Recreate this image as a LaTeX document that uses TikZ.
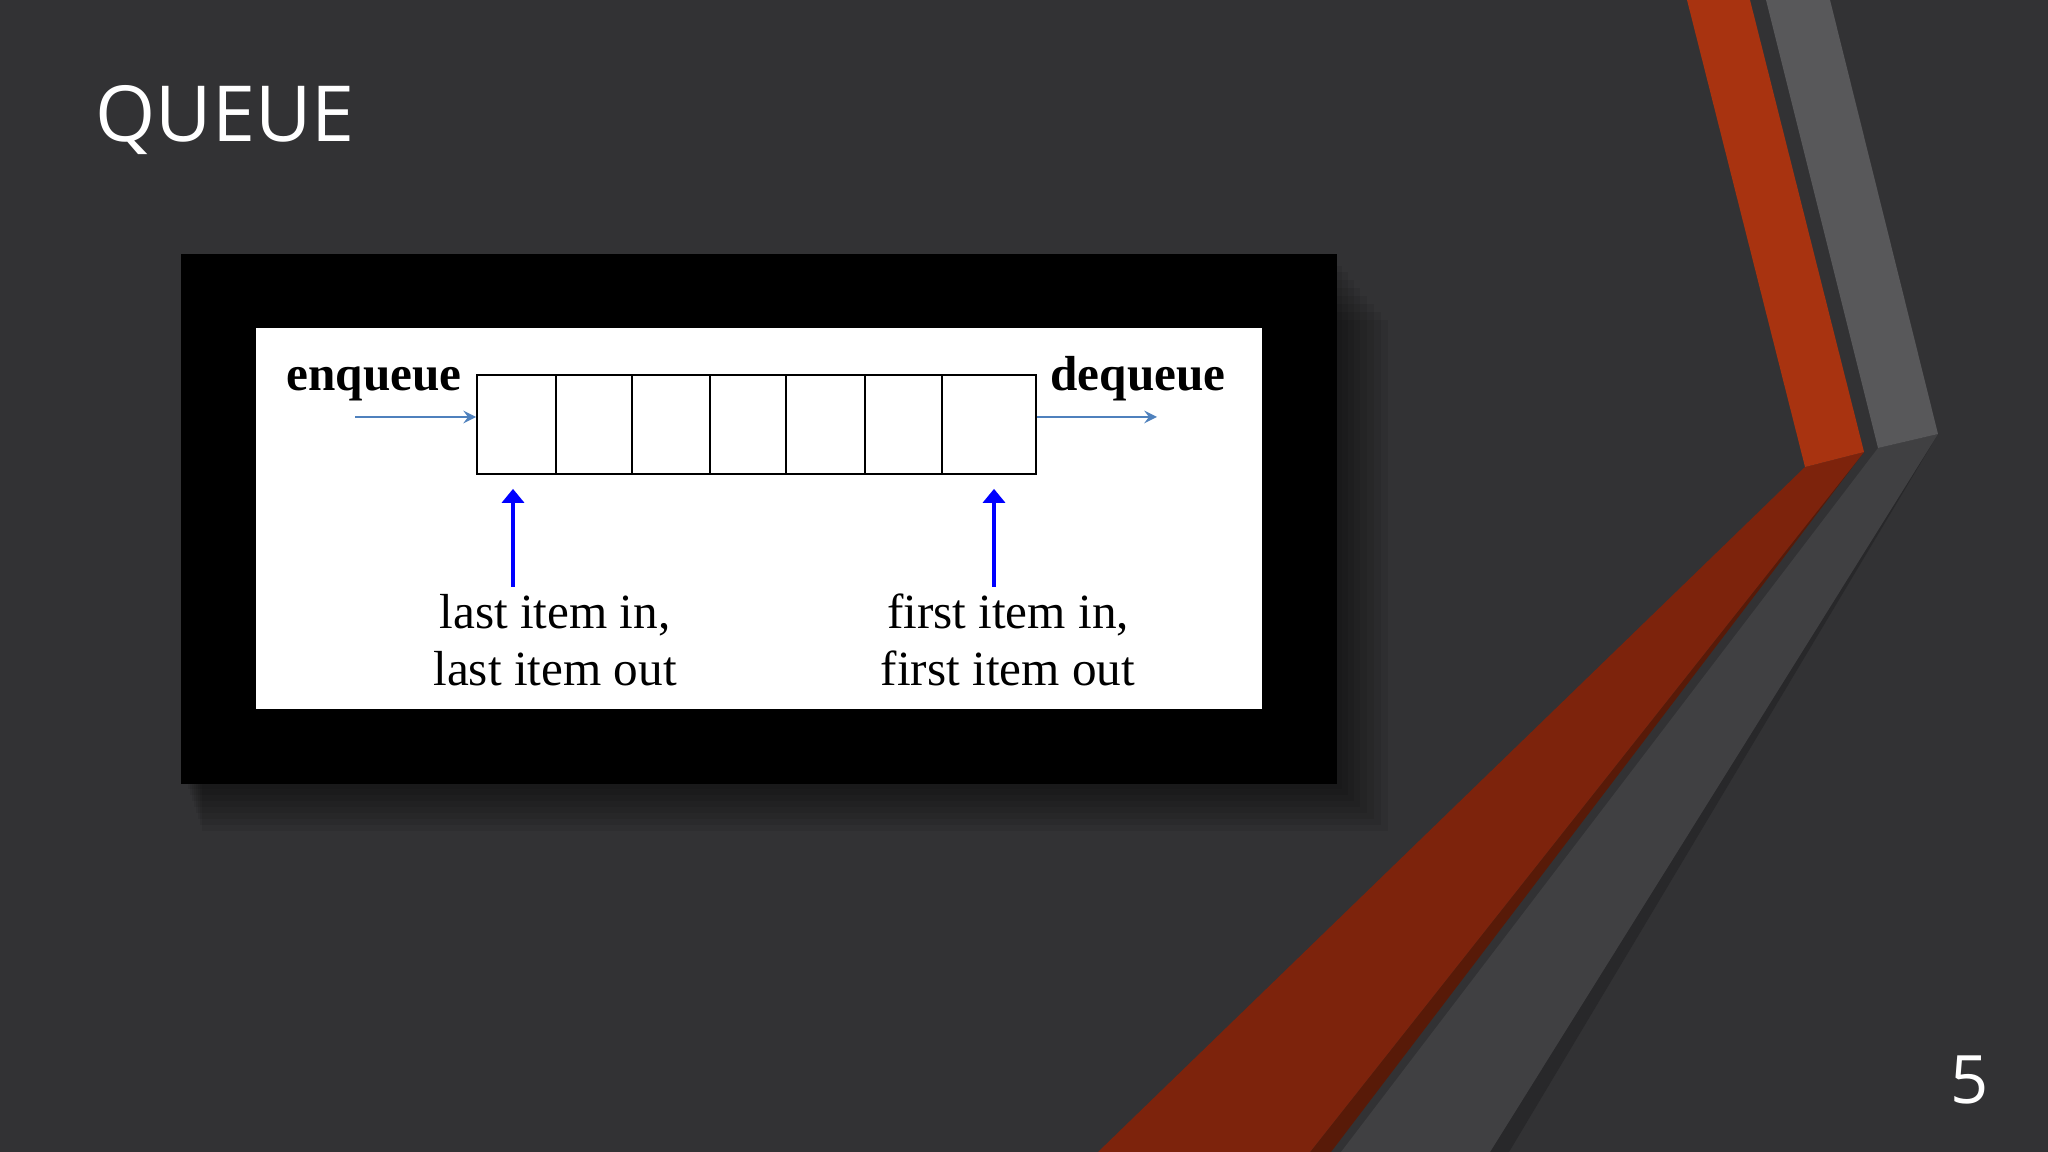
\documentclass[tikz,border=0pt]{standalone}
\usepackage{fontspec}
\setmainfont{Open Sans}
\newfontfamily\timesfont{Liberation Serif}
\usepackage{tikz}
\usetikzlibrary{arrows,arrows.meta,positioning}
\usepackage{xcolor}
\definecolor{slidebg}{RGB}{50,50,52}
\definecolor{rustup}{RGB}{168,51,16}
\definecolor{rustlow}{RGB}{125,35,12}
\definecolor{rustdark}{RGB}{88,26,8}
\definecolor{greyup}{RGB}{88,88,90}
\definecolor{greylow}{RGB}{64,64,66}
\definecolor{greydark}{RGB}{40,40,42}
\definecolor{feedblue}{RGB}{79,129,189}
\definecolor{ptrblue}{RGB}{0,0,255}
\tikzstyle{cell} = [draw=black, line width=0.5pt, minimum height=9.9mm, inner sep=0pt]
\tikzstyle{feed} = [line width=0.6pt, ->, >=stealth, color=feedblue]
\tikzstyle{pointer} = [line width=1.4pt, -{Triangle[length=1.4mm, width=2.2mm]}, color=ptrblue, shorten >=1.4mm]
\tikzstyle{qhead} = [font=\timesfont\bfseries\fontsize{14}{16}\selectfont, inner sep=0pt]
\tikzstyle{qlabel} = [font=\timesfont\fontsize{14}{16.2}\selectfont, align=center, inner sep=0pt]
\tikzstyle{haze} = [black, opacity=0.07]

\begin{document}
\begin{tikzpicture}[x=0.1mm, y=-0.1mm]
\useasboundingbox (0,0) rectangle (2048,1152);
\fill[slidebg] (0,0) rectangle (2048,1152);

% Stripes
\fill[rustdark] (1864,452) -- (1331,1152) -- (1310,1152) -- cycle;
\fill[rustlow] (1805,467) -- (1864,452) -- (1310,1152) -- (1098,1152) -- cycle;
\fill[greydark] (1938,434) -- (1509,1152) -- (1490,1152) -- cycle;
\fill[greylow] (1878,448) -- (1938,434) -- (1490,1152) -- (1341,1152) -- cycle;
\fill[rustup] (1687,0) -- (1750,0) -- (1864,452) -- (1805,467) -- cycle;
\fill[greyup] (1766,0) -- (1830,0) -- (1938,434) -- (1878,448) -- cycle;

% Title and page number
\node[anchor=base west, text=white, inner sep=0pt, font=\fontsize{22}{26}\selectfont] (title) at (95,142) {QUEUE};
\node[anchor=base, text=white, inner sep=0pt, font=\fontsize{19}{22}\selectfont] (pageno) at (1970,1103) {5};

% Frame with soft shadow
\fill[haze] (188,266) rectangle (1342,789);
\fill[haze] (190,272) rectangle (1348,795);
\fill[haze] (192,280) rectangle (1354,801);
\fill[haze] (194,288) rectangle (1360,807);
\fill[haze] (196,296) rectangle (1367,813);
\fill[haze] (198,304) rectangle (1374,819);
\fill[haze] (200,312) rectangle (1381,825);
\fill[haze] (202,320) rectangle (1388,831);
\fill[black] (181,254) rectangle (1337,784);
\fill[white] (256,328) rectangle (1262,709);

% Queue cells
\node[cell, minimum width=7.9mm] (c1) at (516.5,424.5) {};
\node[cell, minimum width=7.6mm] (c2) at (594,424.5) {};
\node[cell, minimum width=7.8mm] (c3) at (671,424.5) {};
\node[cell, minimum width=7.6mm] (c4) at (748,424.5) {};
\node[cell, minimum width=7.9mm] (c5) at (825.5,424.5) {};
\node[cell, minimum width=7.7mm] (c6) at (903.5,424.5) {};
\node[cell, minimum width=9.4mm] (c7) at (989,424.5) {};

% Ends
\node[qhead, anchor=base] (enq) at (374,391) {enqueue};
\node[qhead, anchor=base] (deq) at (1138,391) {dequeue};
\coordinate (enqtail) at (355,417);
\coordinate (deqtip) at (1157,417);
\draw[feed] (enqtail) -- (enqtail -| c1.west);
\draw[feed] (deqtip -| c7.east) -- (deqtip);

% Pointers
\node[qlabel] (lifo) at (555,640) {last item in,\\last item out};
\node[qlabel] (fifo) at (1008,640) {first item in,\\first item out};
\coordinate (lifofoot) at (513,587);
\coordinate (fifofoot) at (994,587);
\draw[pointer] (lifofoot) -- (lifofoot |- c1.south);
\draw[pointer] (fifofoot) -- (fifofoot |- c7.south);
\end{tikzpicture}
\end{document}
